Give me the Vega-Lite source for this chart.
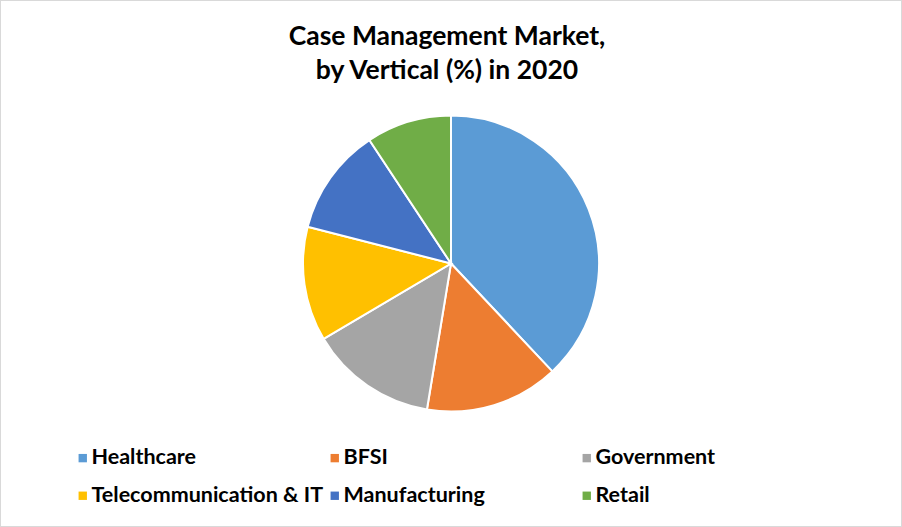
{
  "$schema": "https://vega.github.io/schema/vega-lite/v6.json",
  "width": 902,
  "height": 527,
  "autosize": {"type": "none"},
  "padding": 0,
  "background": "white",
  "view": {"stroke": "#D9D9D9", "strokeWidth": 2},
  "config": {
    "view": {"stroke": "#D9D9D9", "strokeWidth": 2},
    "font": "Lato"
  },
  "title": {
    "text": ["Case Management Market,", "by Vertical (%) in 2020"],
    "font": "Lato",
    "fontSize": 26.5,
    "fontWeight": "bold",
    "color": "#000000",
    "lineHeight": 34,
    "anchor": "middle",
    "orient": "top",
    "offset": -84,
    "dx": -4
  },
  "data": {
    "values": [
      {"vertical": "Healthcare", "share": 38.0, "order": 1},
      {"vertical": "BFSI", "share": 14.6, "order": 2},
      {"vertical": "Government", "share": 13.9, "order": 3},
      {"vertical": "Telecommunication & IT", "share": 12.5, "order": 4},
      {"vertical": "Manufacturing", "share": 11.7, "order": 5},
      {"vertical": "Retail", "share": 9.3, "order": 6}
    ]
  },
  "mark": {"type": "arc", "outerRadius": 148, "stroke": "white", "strokeWidth": 2},
  "encoding": {
    "theta": {"field": "share", "type": "quantitative", "stack": true},
    "order": {"field": "order", "type": "quantitative"},
    "color": {
      "field": "vertical",
      "type": "nominal",
      "sort": ["Healthcare", "BFSI", "Government", "Telecommunication & IT", "Manufacturing", "Retail"],
      "scale": {
        "domain": ["Healthcare", "BFSI", "Government", "Telecommunication & IT", "Manufacturing", "Retail"],
        "range": ["#5B9BD5", "#ED7D31", "#A5A5A5", "#FFC000", "#4472C4", "#70AD47"]
      },
      "legend": {
        "orient": "none",
        "legendX": 72,
        "legendY": 447,
        "direction": "horizontal",
        "columns": 3,
        "gridAlign": "all",
        "columnPadding": 0,
        "rowPadding": 15,
        "title": null,
        "symbolType": "square",
        "symbolSize": 70,
        "symbolStrokeWidth": 0,
        "labelFont": "Lato",
        "labelFontSize": 21.5,
        "labelFontWeight": "bold",
        "labelColor": "#000000",
        "labelOffset": -2,
        "labelLimit": 400
      }
    }
  }
}
